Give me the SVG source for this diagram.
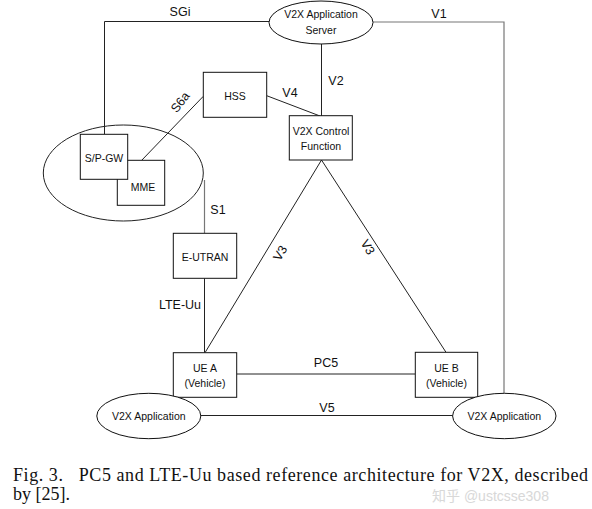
<svg xmlns="http://www.w3.org/2000/svg" width="592" height="509" viewBox="0 0 592 509">
<style>
.n{fill:#fff;stroke:#111;stroke-width:1}
.c{fill:none;stroke:#222;stroke-width:1}
.g{fill:none;stroke:#777;stroke-width:1.2}
.t{font-family:"Liberation Sans",Arial,sans-serif;font-size:10.5px;fill:#111;text-anchor:middle}
.l{font-family:"Liberation Sans",Arial,sans-serif;font-size:12.5px;fill:#111;text-anchor:middle}
.cap{font-family:"Liberation Serif","Times New Roman",serif;font-size:18px;fill:#111}
</style>
<rect width="592" height="509" fill="#fff"/>
<g id="connectors">
<polyline class="c" points="269,21.5 104.5,21.5 104.5,134"/>
<polyline class="g" points="373,22 504,22 504,393.5"/>
<line class="c" x1="321.5" y1="44" x2="321.5" y2="116"/>
<line class="c" x1="266.7" y1="95.7" x2="320" y2="116"/>
<line class="c" x1="203.3" y1="96.3" x2="141.7" y2="160.3"/>
<line class="g" x1="204.5" y1="180" x2="204.5" y2="233.3"/>
<line class="c" x1="204.5" y1="278.3" x2="204.5" y2="352.7"/>
<line class="c" x1="205" y1="352.7" x2="321.5" y2="160"/>
<line class="c" x1="321.5" y1="160" x2="446" y2="352.3"/>
<line class="c" x1="236.7" y1="374" x2="415.3" y2="374"/>
<line class="c" x1="201" y1="415.5" x2="452.7" y2="415.5"/>
<text class="l" x="180" y="15.5">SGi</text>
<text class="l" x="439" y="17.5">V1</text>
<text class="l" x="336" y="84.5">V2</text>
<text class="l" x="290" y="96.5">V4</text>
<text class="l" transform="translate(180,102) rotate(-52)" y="4.5">S6a</text>
<text class="l" x="218" y="213.5">S1</text>
<text class="l" x="180" y="308.5">LTE-Uu</text>
<text class="l" transform="translate(280,253) rotate(-60)" y="4.5">V3</text>
<text class="l" transform="translate(368,247) rotate(60)" y="4.5">V3</text>
<text class="l" x="326" y="367">PC5</text>
<text class="l" x="327" y="412">V5</text>
</g>
<g id="core">
<ellipse class="c" cx="123.3" cy="173" rx="80" ry="48"/>
</g>
<g id="server">
<ellipse class="n" cx="321" cy="22.5" rx="52" ry="21.5"/>
<text class="t" x="321" y="18.3">V2X Application</text>
<text class="t" x="321" y="33.8">Server</text>
</g>
<g id="hss">
<rect class="n" x="203.3" y="72.3" width="63.4" height="45"/>
<text class="t" x="235" y="99.8">HSS</text>
</g>
<g id="v2x-control">
<rect class="n" x="289.3" y="115.7" width="63" height="44.3"/>
<text class="t" x="321" y="134.5">V2X Control</text>
<text class="t" x="321" y="150">Function</text>
</g>
<g id="mme">
<rect class="n" x="117.3" y="160.3" width="47.4" height="45"/>
<text class="t" x="143" y="191">MME</text>
</g>
<g id="spgw">
<rect class="n" x="80.3" y="134.3" width="47.4" height="45"/>
<text class="t" x="104" y="161.8">S/P-GW</text>
</g>
<g id="eutran">
<rect class="n" x="173.3" y="233.3" width="63.4" height="45"/>
<text class="t" x="205" y="260.8">E-UTRAN</text>
</g>
<g id="ue-a">
<rect class="n" x="173.3" y="352.7" width="63.4" height="44.6"/>
<text class="t" x="205" y="371.5">UE A</text>
<text class="t" x="205" y="387">(Vehicle)</text>
</g>
<g id="ue-b">
<rect class="n" x="415.3" y="352.3" width="62.4" height="45"/>
<text class="t" x="446.5" y="371.5">UE B</text>
<text class="t" x="446.5" y="387">(Vehicle)</text>
</g>
<g id="app-a">
<ellipse class="n" cx="148.8" cy="416" rx="52" ry="22.7"/>
<text class="t" x="148.8" y="419.8">V2X Application</text>
</g>
<g id="app-b">
<ellipse class="n" cx="504.3" cy="416" rx="51.7" ry="22.7"/>
<text class="t" x="504.3" y="419.8">V2X Application</text>
</g>
<g id="caption">
<text class="cap" x="13" y="481" textLength="575" lengthAdjust="spacing" xml:space="preserve">Fig. 3.   PC5 and LTE-Uu based reference architecture for V2X, described</text>
<text class="cap" x="13" y="500">by [25].</text>
<text x="432" y="501" font-family="Liberation Sans,'Noto Sans CJK SC',sans-serif" font-size="14" fill="#d4d4d4" opacity="0.9">知乎 @ustcsse308</text>
</g>
</svg>
